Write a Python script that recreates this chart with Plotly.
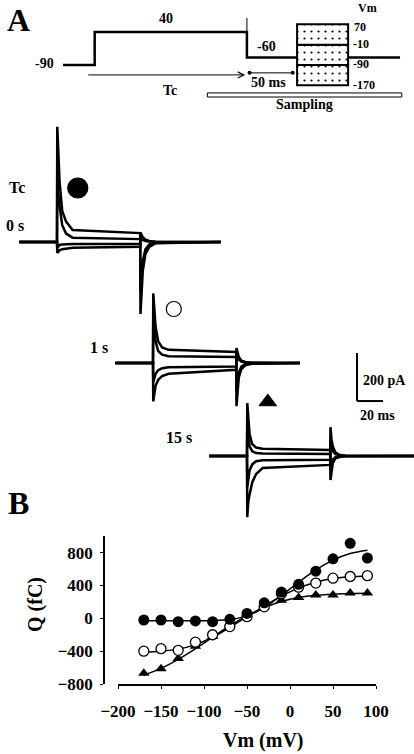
import plotly.graph_objects as go

W, H = 414, 754
FONT = "Liberation Serif"

# ---------------- panel B : Q-V data ----------------
vm = [-170, -150, -130, -110, -90, -70, -50, -30, -10, 10, 30, 50, 70, 90]
q_0s = [-20, -20, -40, -32, -40, -12, 60, 190, 320, 415, 575, 725, 915, 735]
q_1s = [-400, -370, -390, -290, -200, -100, 20, 140, 300, 380, 430, 490, 510, 520]
q_15s = [-670, -615, -490, -340, -220, -75, 45, 150, 220, 255, 285, 285, 310, 310]

# fitted curves
fit_0s = [-30, -30, -30, -30, -28, -15, 30, 130, 280, 440, 590, 710, 790, 830]
fit_1s = [-410, -400, -375, -320, -230, -110, 20, 150, 270, 370, 440, 485, 505, 515]
fit_15s = [-690, -610, -500, -370, -230, -90, 30, 130, 205, 255, 280, 295, 302, 305]

# ---------------- panel A : pulse protocol ----------------
proto_t = [0, 36, 36, 209, 209, 266]
proto_v = [-90, -90, 40, 40, -60, -60]
proto_tail_t = [324, 383]
proto_tail_v = [-60, -60]
test_levels = [-170, -90, -10, 70]
test_t = [266, 324]
gap_t = [212, 261]
sampling_t = [164, 385]

# ---------------- panel A : current records (pA) ----------------
rec_t = [-29, 0, 0.2, 1, 2, 4, 7, 12, 64, 64.2, 65, 66, 68, 71, 76]
rec_end = [126, 113, 130]
rec_0s = [
    [0, 0, 480, 340, 250, 130, 85, 50, 37, -300, -200, -120, -50, -20, -5, 0],
    [0, 0, 300, 200, 150, 70, 35, 18, 12, -200, -130, -80, -30, -10, -3, 0],
    [0, 0, -25, -18, -12, -10, -9, -8, -8, 15, 11, 8, 4, 2, 0, 0],
    [0, 0, -45, -40, -35, -30, -27, -24, -20, 40, 30, 20, 10, 4, 1, 0],
]
rec_1s = [
    [0, 0, 290, 210, 150, 90, 65, 55, 46, -180, -110, -60, -25, -10, -3, 0],
    [0, 0, 200, 130, 90, 50, 35, 28, 25, -120, -70, -40, -15, -5, -2, 0],
    [0, 0, -80, -60, -45, -30, -22, -18, -15, 40, 25, 15, 6, 2, 1, 0],
    [0, 0, -160, -120, -95, -70, -55, -45, -28, 62, 40, 25, 10, 4, 1, 0],
]
rec_15s = [
    [0, 0, 220, 140, 90, 50, 35, 30, 25, -100, -60, -30, -10, -4, -1, 0],
    [0, 0, 120, 70, 40, 20, 12, 10, 8, -60, -35, -15, -5, -2, 0, 0],
    [0, 0, -130, -90, -60, -35, -22, -18, -16, 70, 40, 20, 8, 3, 0, 0],
    [0, 0, -255, -190, -160, -110, -75, -50, -37, 120, 70, 40, 15, 5, 1, 0],
]
records = [rec_0s, rec_1s, rec_15s]
rec_symbols = ["circle", "circle-open", "triangle-up"]
rec_sizes = [20, 15, 15]
symbol_at = (16, 225)
scale_bar = (84.6, 229, 20, 200)  # t, pA, 20 ms, 200 pA


def px(x):
    return x / W


def py(y):
    return 1 - y / H


fig = go.Figure()

# Q-V fits and points
for fit in [fit_0s, fit_1s, fit_15s]:
    fig.add_trace(go.Scatter(x=vm, y=fit, mode="lines", line=dict(color="black", width=1.5, shape="spline"),
                             showlegend=False, hoverinfo="skip"))
fig.add_trace(go.Scatter(x=vm, y=q_15s, mode="markers",
                         marker=dict(symbol="triangle-up", size=10, color="black"), showlegend=False))
fig.add_trace(go.Scatter(x=vm, y=q_1s, mode="markers",
                         marker=dict(symbol="circle", size=10, color="white", line=dict(color="black", width=1.3)),
                         showlegend=False))
fig.add_trace(go.Scatter(x=vm, y=q_0s, mode="markers",
                         marker=dict(symbol="circle", size=11, color="black"), showlegend=False))

# protocol
fig.add_trace(go.Scatter(x=proto_t, y=proto_v, xaxis="x2", yaxis="y2", mode="lines",
                         line=dict(color="black", width=2.5), showlegend=False))
fig.add_trace(go.Scatter(x=proto_tail_t, y=proto_tail_v, xaxis="x2", yaxis="y2", mode="lines",
                         line=dict(color="black", width=2.5), showlegend=False))
fig.add_trace(go.Bar(x=[(test_t[0] + test_t[1]) / 2] * 3, base=test_levels[:-1],
                     y=[test_levels[i + 1] - test_levels[i] for i in range(3)],
                     width=test_t[1] - test_t[0], xaxis="x2", yaxis="y2",
                     marker=dict(color="white", line=dict(color="black", width=2),
                                 pattern=dict(shape=".", fgcolor="black", bgcolor="white", size=7, solidity=0.08)),
                     showlegend=False))
fig.add_trace(go.Scatter(x=gap_t, y=[-121, -121], xaxis="x2", yaxis="y2", mode="lines+markers",
                         line=dict(color="black", width=1), marker=dict(size=4, color="black"), showlegend=False))

# current records
for i, group in enumerate(records):
    ax = str(i + 3)
    t = rec_t + [rec_end[i]]
    for curve in group:
        fig.add_trace(go.Scatter(x=t, y=curve, xaxis="x" + ax, yaxis="y" + ax, mode="lines",
                                 line=dict(color="black", width=2.5), showlegend=False, hoverinfo="skip"))
    fig.add_trace(go.Scatter(x=[symbol_at[0]], y=[symbol_at[1]], xaxis="x" + ax, yaxis="y" + ax, mode="markers",
                             marker=dict(symbol=rec_symbols[i], size=rec_sizes[i], color="black",
                                         line=dict(color="black", width=1.2)),
                             showlegend=False))

# axes layout
hidden = dict(visible=False, domain=[0, 1], automargin=False)
layout_axes = {}
layout_axes["xaxis2"] = dict(hidden, range=[-63 / 0.88, (W - 63) / 0.88], anchor="y2")
layout_axes["yaxis2"] = dict(hidden, range=[-90 - (H - 65) / 0.254, -90 + 65 / 0.254], anchor="x2")
rec_origin = [(57, 242), (153, 363), (247, 456)]
for i, (xo, yo) in enumerate(rec_origin):
    ax = str(i + 3)
    layout_axes["xaxis" + ax] = dict(hidden, range=[-xo / 1.3, (W - xo) / 1.3], anchor="y" + ax)
    layout_axes["yaxis" + ax] = dict(hidden, range=[-(H - yo) / 0.24, yo / 0.24], anchor="x" + ax)

tickfont = dict(family=FONT, size=17, color="black", weight="bold")
fig.update_layout(
    template="none",
    width=W, height=H, autosize=False,
    margin=dict(l=0, r=0, t=0, b=0, pad=0),
    paper_bgcolor="white", plot_bgcolor="rgba(0,0,0,0)",
    barmode="overlay",
    xaxis=dict(domain=[px(118), px(376)], range=[-200, 100], tickvals=[-200, -150, -100, -50, 0, 50, 100],
               showline=True, linecolor="black", linewidth=1.5, ticks="outside", ticklen=3,
               tickcolor="black", showgrid=False, zeroline=False, tickfont=tickfont,
               ticklabelstandoff=8, anchor="y", automargin=False),
    yaxis=dict(domain=[py(684), py(536.3)], range=[-800, 1000], tickvals=[-800, -400, 0, 400, 800],
               showline=True, linecolor="black", linewidth=1.5, ticks="outside", ticklen=3,
               tickcolor="black", showgrid=False, zeroline=False, tickfont=tickfont,
               ticklabelstandoff=4, anchor="free", position=px(104), automargin=False),
    **layout_axes,
)

# shapes
shapes = [
    dict(type="line", xref="x2", yref="y2", x0=209, x1=209, y0=40, y1=95, line=dict(color="black", width=1)),
    dict(type="rect", xref="x2", yref="y2", x0=sampling_t[0], x1=sampling_t[1], y0=-200, y1=-216,
         line=dict(color="black", width=1)),
    dict(type="line", xref="x5", yref="y5", x0=scale_bar[0], x1=scale_bar[0], y0=scale_bar[1],
         y1=scale_bar[1] + scale_bar[3], line=dict(color="black", width=2)),
    dict(type="line", xref="x5", yref="y5", x0=scale_bar[0], x1=scale_bar[0] + scale_bar[2], y0=scale_bar[1],
         y1=scale_bar[1], line=dict(color="black", width=2)),
]
fig.update_layout(shapes=shapes)


def label(text, x, y, size=14, xanchor="center", textangle=0):
    fig.add_annotation(text=text, x=px(x), y=py(y), xref="paper", yref="paper", showarrow=False,
                       xanchor=xanchor, yanchor="middle", textangle=textangle,
                       font=dict(family=FONT, size=size, color="black", weight="bold"))


label("A", 5, 20, size=32, xanchor="left")
label("-90", 44, 63)
label("40", 166, 19)
label("-60", 266, 47)
label("Vm", 367, 8, size=12)
label("70", 352, 27, size=12, xanchor="left")
label("-10", 351, 44, size=12, xanchor="left")
label("-90", 351, 64, size=12, xanchor="left")
label("-170", 351, 85, size=12, xanchor="left")
label("Tc", 170, 90)
label("50 ms", 268, 83)
label("Sampling", 304, 104)

label("Tc", 7, 187, size=16, xanchor="left")
label("0 s", 4, 225, size=16, xanchor="left")
label("1 s", 88, 347, size=16, xanchor="left")
label("15 s", 164, 437, size=16, xanchor="left")
label("200 pA", 361, 380, size=14, xanchor="left")
label("20 ms", 377, 415, size=14)

label("B", 6, 503, size=32, xanchor="left")
label("Q (fC)", 35, 605, size=20, textangle=-90)
label("Vm (mV)", 263, 740, size=20)

# Tc arrow
fig.add_annotation(x=207, y=-129, ax=27, ay=-129, xref="x2", yref="y2", axref="x2", ayref="y2",
                   text="", showarrow=True, arrowhead=5, arrowsize=1.2, arrowwidth=1, arrowcolor="black")

# drop the browser's default page margin so the figure sits at the window corner
fig.write_html("out.html", config={"displayModeBar": False},
               post_script="document.body.style.margin='0';")
